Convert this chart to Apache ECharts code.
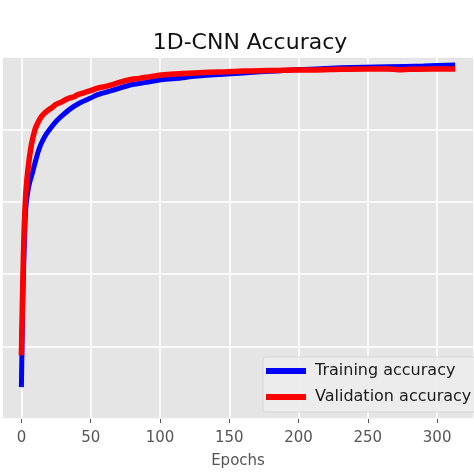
<!DOCTYPE html>
<html>
<head>
<meta charset="utf-8">
<script src="https://cdn.jsdelivr.net/npm/echarts@6/dist/echarts.min.js"></script>
<style>
  html, body { margin: 0; padding: 0; background: #fff; }
  #chart { width: 474px; height: 474px; }
</style>
</head>
<body>
<div id="chart"></div>
<script>
// 数据
const trainEpochs = [0, 1, 2, 3, 4, 5, 6, 7, 8, 9, 10, 12, 14, 17, 21, 25, 30, 35, 42, 50, 55, 65, 78, 90, 101, 115, 125, 148, 172, 195, 230, 265, 290, 313];
const trainAcc = [0.088, 0.332, 0.470, 0.574, 0.612, 0.636, 0.654, 0.668, 0.680, 0.696, 0.710, 0.737, 0.758, 0.781, 0.803, 0.822, 0.840, 0.856, 0.873, 0.887, 0.896, 0.907, 0.922, 0.930, 0.937, 0.942, 0.947, 0.953, 0.959, 0.964, 0.970, 0.973, 0.975, 0.978];

const valEpochs = [0, 1, 2, 3, 4, 5, 6, 7, 8, 9, 10, 12, 14, 16, 18, 20, 22, 25, 28, 30, 33, 35, 38, 40, 45, 50, 55, 60, 65, 70, 78, 85, 90, 101, 110, 125, 135, 148, 160, 172, 185, 195, 210, 230, 250, 265, 272, 280, 295, 313];
const valAcc = [0.176, 0.374, 0.530, 0.613, 0.662, 0.698, 0.728, 0.753, 0.772, 0.788, 0.802, 0.819, 0.833, 0.842, 0.849, 0.855, 0.860, 0.869, 0.874, 0.878, 0.884, 0.887, 0.890, 0.895, 0.901, 0.907, 0.914, 0.918, 0.923, 0.929, 0.937, 0.941, 0.944, 0.950, 0.953, 0.956, 0.958, 0.959, 0.961, 0.962, 0.963, 0.964, 0.964, 0.966, 0.967, 0.967, 0.965, 0.966, 0.967, 0.967];

const seriesNames = ['Training accuracy', 'Validation accuracy'];
const chartTitle = '1D-CNN Accuracy';
const xName = 'Epochs';

function zip(xs, ys) {
    return xs.map((x, i) => [x, ys[i]]);
}

var myChart = echarts.init(document.getElementById('chart'));

var option = {
    animation: false,
    backgroundColor: '#ffffff',
    textStyle: { fontFamily: 'DejaVu Sans' },
    title: {
        text: chartTitle,
        left: 245,
        top: 27,
        textAlign: 'center',
        textStyle: { fontSize: 22, fontWeight: 'normal', color: '#111', fontFamily: 'DejaVu Sans' }
    },
    grid: {
        left: 2,
        right: -14,
        top: 57,
        bottom: 53,
        show: true,
        backgroundColor: '#e5e5e5',
        borderWidth: 0
    },
    xAxis: {
        type: 'value',
        min: -14,
        max: 326.6,
        splitNumber: 5,
        name: xName,
        nameLocation: 'middle',
        nameGap: 35,
        nameTextStyle: { fontSize: 15, color: '#555', fontFamily: 'DejaVu Sans' },
        axisLine: { show: false },
        axisTick: { show: true, length: 4, lineStyle: { color: '#555', width: 1 } },
        axisLabel: {
            show: true,
            margin: 12,
            fontSize: 15,
            color: '#555',
            fontFamily: 'DejaVu Sans',
            showMinLabel: false,
            showMaxLabel: false
        },
        splitLine: { show: true, lineStyle: { color: '#ffffff', width: 1.5 } }
    },
    yAxis: {
        type: 'value',
        min: 0,
        max: 1,
        interval: 0.2,
        axisLine: { show: false },
        axisTick: { show: false },
        axisLabel: { show: false },
        splitLine: { show: true, lineStyle: { color: '#ffffff', width: 1.5 } }
    },
    legend: {
        orient: 'vertical',
        left: 263,
        top: 357,
        icon: 'rect',
        itemWidth: 40,
        itemHeight: 6,
        itemGap: 10,
        padding: [6, 30, 7, 3],
        backgroundColor: 'rgba(236,236,236,0.9)',
        borderColor: '#d6d6d6',
        borderWidth: 1,
        borderRadius: 3,
        textStyle: { fontSize: 16, color: '#1a1a1a', fontFamily: 'DejaVu Sans', padding: [0, 0, 0, 4] },
        data: seriesNames
    },
    series: [
        {
            name: seriesNames[0],
            type: 'line',
            data: zip(trainEpochs, trainAcc),
            showSymbol: false,
            smooth: 0.25,
            lineStyle: { color: '#0000ff', width: 5 },
            itemStyle: { color: '#0000ff' }
        },
        {
            name: seriesNames[1],
            type: 'line',
            data: zip(valEpochs, valAcc),
            showSymbol: false,
            smooth: 0.25,
            lineStyle: { color: '#ff0000', width: 5.5 },
            itemStyle: { color: '#ff0000' }
        }
    ]
};

myChart.setOption(option);
</script>
</body>
</html>
